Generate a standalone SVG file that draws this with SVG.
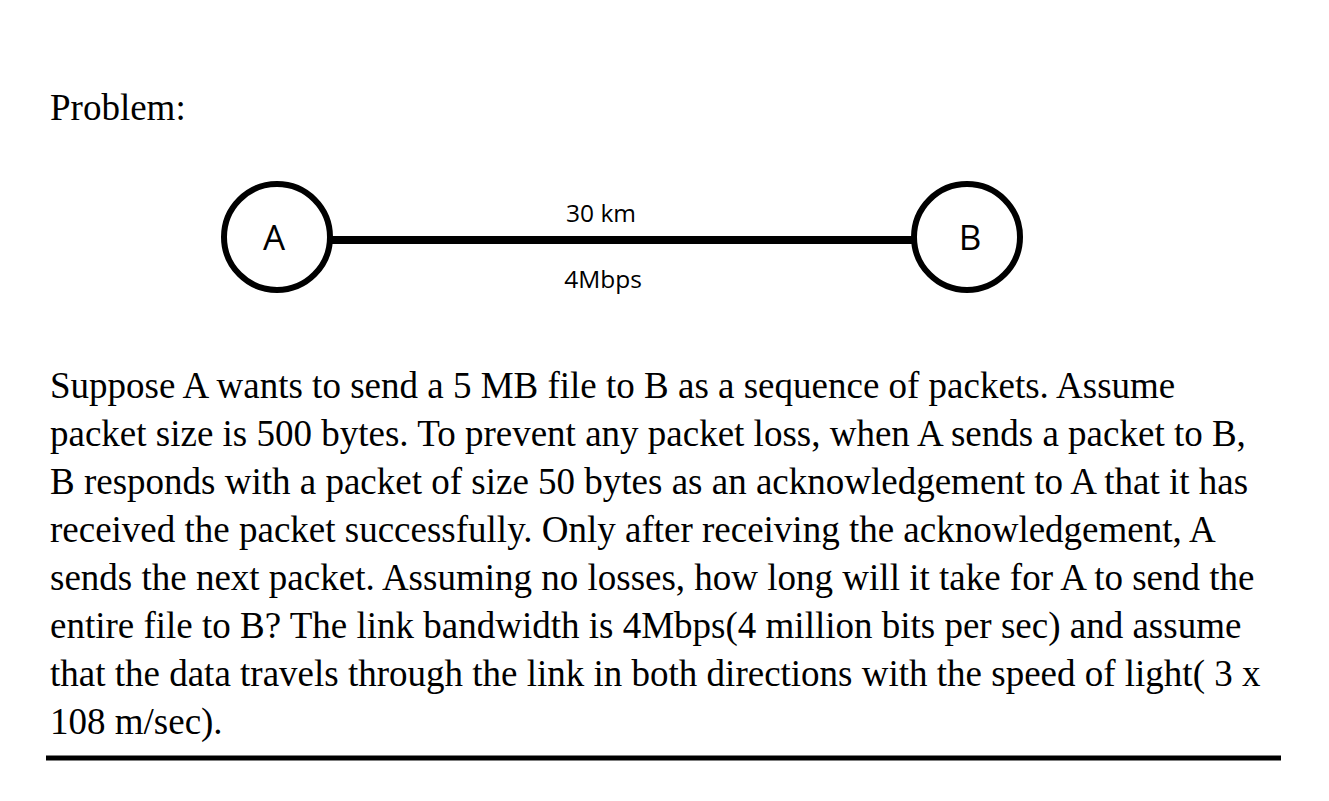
<svg xmlns="http://www.w3.org/2000/svg" width="1329" height="801" viewBox="0 0 1329 801">
<style>
.t{font-family:"Liberation Serif",serif;font-size:37px;fill:#000}
.s{font-family:"Open Sans","Liberation Sans",sans-serif;font-size:24.5px;fill:#000}
.n{fill:#fff;stroke:#000;stroke-width:6}
.c{font-family:"Open Sans","Liberation Sans",sans-serif;font-size:35px;fill:#000;text-anchor:middle}
</style>
<rect width="1329" height="801" fill="#fff"/>
<text class="t" x="50" y="120">Problem:</text>
<g id="connectors">
<line x1="330" y1="240" x2="914" y2="240" stroke="#000" stroke-width="8"/>
<text class="s" x="601" y="222" text-anchor="middle">30 km</text>
<text class="s" x="603" y="288" text-anchor="middle">4Mbps</text>
</g>
<g id="nodeA"><circle class="n" cx="277" cy="237" r="53"/><text class="c" x="274" y="250">A</text></g>
<g id="nodeB"><circle class="n" cx="967" cy="237" r="53"/><text class="c" x="970" y="250">B</text></g>
<text class="t" x="50" y="398">Suppose A wants to send a 5 MB file to B as a sequence of packets. Assume</text>
<text class="t" x="50" y="446">packet size is 500 bytes. To prevent any packet loss, when A sends a packet to B,</text>
<text class="t" x="50" y="494">B responds with a packet of size 50 bytes as an acknowledgement to A that it has</text>
<text class="t" x="50" y="542">received the packet successfully. Only after receiving the acknowledgement, A</text>
<text class="t" x="50" y="590">sends the next packet. Assuming no losses, how long will it take for A to send the</text>
<text class="t" x="50" y="638">entire file to B? The link bandwidth is 4Mbps(4 million bits per sec) and assume</text>
<text class="t" x="50" y="686">that the data travels through the link in both directions with the speed of light( 3 x</text>
<text class="t" x="50" y="734">108 m/sec).</text>
<line x1="46" y1="758" x2="1281" y2="758" stroke="#000" stroke-width="5"/>
</svg>
